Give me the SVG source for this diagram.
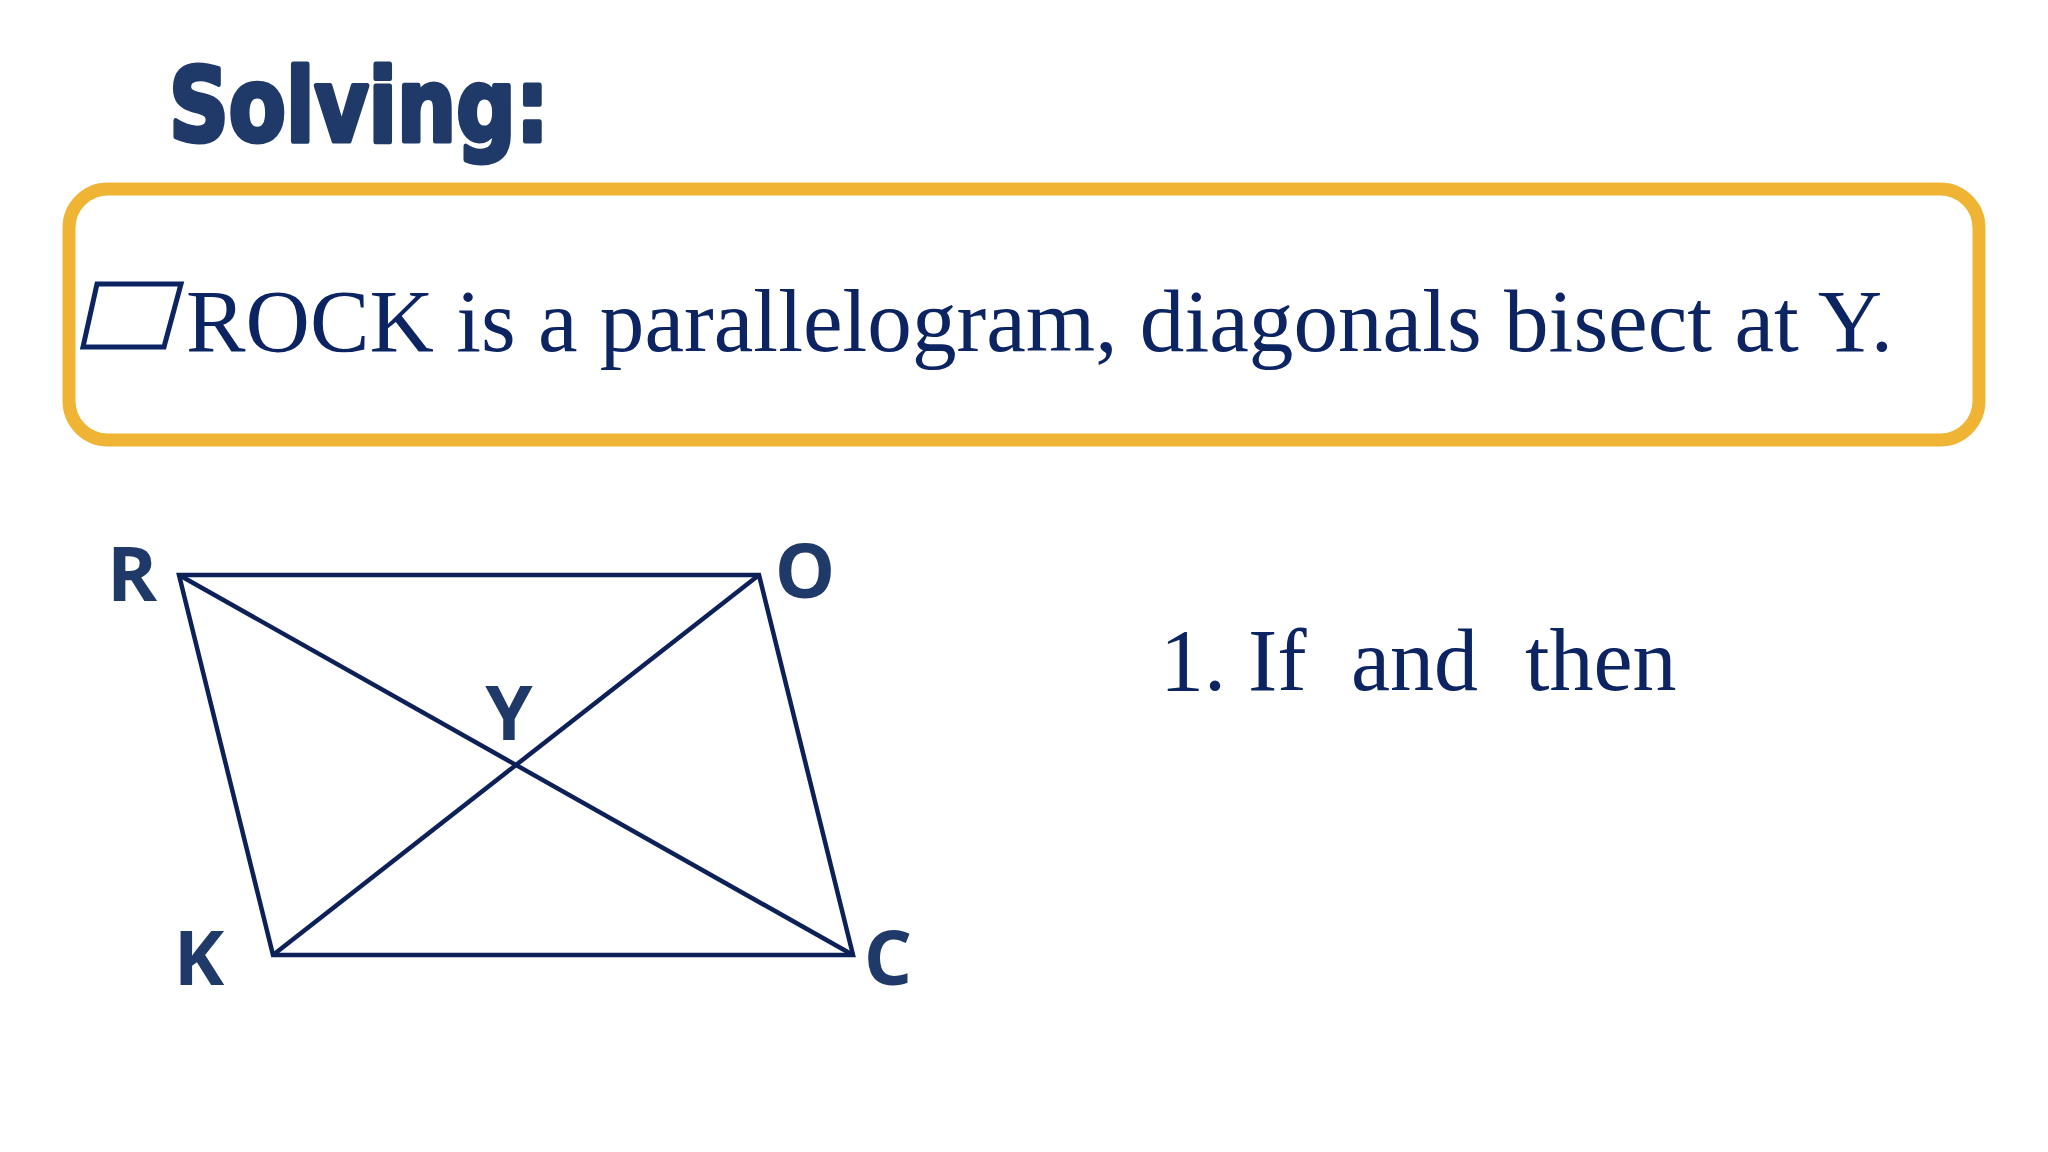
<svg xmlns="http://www.w3.org/2000/svg" width="2048" height="1152" viewBox="0 0 2048 1152">
  <style>
    .title { font-family: "DejaVu Sans", "Liberation Sans", sans-serif; font-weight: bold; font-size: 102px; fill: #1f3a68; stroke: #1f3a68; stroke-width: 5; stroke-linejoin: round; }
    .serif { font-family: "Liberation Serif", "Times New Roman", serif; fill: #0d2463; }
    .label { font-family: "Open Sans", "Noto Sans", "Liberation Sans", sans-serif; font-weight: bold; font-size: 76px; fill: #1f3a68; text-anchor: middle; }
    .edge { stroke: #0d2158; stroke-width: 4.5; fill: none; stroke-linejoin: miter; }
  </style>
  <rect width="2048" height="1152" fill="#ffffff"/>

  <g id="title">
    <text class="title" x="169" y="141" textLength="380" lengthAdjust="spacingAndGlyphs">Solving:</text>
  </g>

  <g id="statement-box">
    <rect x="69" y="189" width="1910" height="251" rx="39" ry="39" fill="none" stroke="#efb434" stroke-width="13"/>
    <polygon points="97,284 181,284 164,347 83,347" fill="none" stroke="#0d2463" stroke-width="5"/>
    <text class="serif" x="186" y="351" font-size="89" textLength="1707" lengthAdjust="spacingAndGlyphs">ROCK is a parallelogram, diagonals bisect at Y.</text>
  </g>

  <g id="step1">
    <text class="serif" y="690" font-size="88"><tspan x="1160">1. If</tspan><tspan x="1351">and</tspan><tspan x="1525">then</tspan></text>
  </g>

  <g id="connectors">
    <polygon class="edge" points="179,575 759,575 853,955 273,955"/>
    <line class="edge" x1="179" y1="575" x2="853" y2="955"/>
    <line class="edge" x1="759" y1="575" x2="273" y2="955"/>
  </g>

  <g id="vertex-R"><text class="label" x="132" y="601">R</text></g>
  <g id="vertex-O"><text class="label" x="805" y="598">O</text></g>
  <g id="vertex-Y"><text class="label" x="509" y="740">Y</text></g>
  <g id="vertex-K"><text class="label" x="199" y="985">K</text></g>
  <g id="vertex-C"><text class="label" x="888" y="985">C</text></g>
</svg>
